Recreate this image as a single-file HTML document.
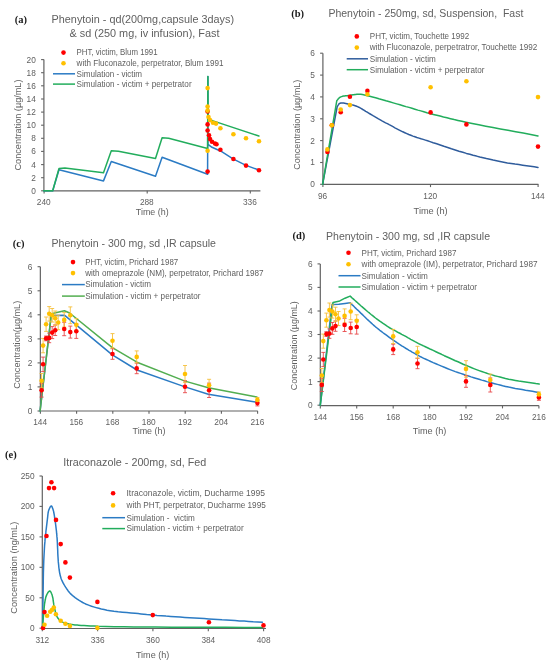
<!DOCTYPE html><html><head><meta charset="utf-8"><style>html,body{margin:0;padding:0;background:#fff;width:550px;height:665px;overflow:hidden}svg{display:block;filter:blur(0.35px)}text{font-family:"Liberation Sans",sans-serif}</style></head><body>
<svg width="550" height="665" viewBox="0 0 550 665">
<rect width="550" height="665" fill="#fff"/>
<line x1="43.9" y1="59.60000000000002" x2="43.9" y2="190.8" stroke="#626262" stroke-width="1.2"/>
<line x1="43.9" y1="190.8" x2="260.4" y2="190.8" stroke="#626262" stroke-width="1.2"/>
<line x1="41.1" y1="190.8" x2="43.9" y2="190.8" stroke="#626262" stroke-width="1.1"/>
<line x1="41.1" y1="177.7" x2="43.9" y2="177.7" stroke="#626262" stroke-width="1.1"/>
<line x1="41.1" y1="164.6" x2="43.9" y2="164.6" stroke="#626262" stroke-width="1.1"/>
<line x1="41.1" y1="151.4" x2="43.9" y2="151.4" stroke="#626262" stroke-width="1.1"/>
<line x1="41.1" y1="138.3" x2="43.9" y2="138.3" stroke="#626262" stroke-width="1.1"/>
<line x1="41.1" y1="125.2" x2="43.9" y2="125.2" stroke="#626262" stroke-width="1.1"/>
<line x1="41.1" y1="112.1" x2="43.9" y2="112.1" stroke="#626262" stroke-width="1.1"/>
<line x1="41.1" y1="99.0" x2="43.9" y2="99.0" stroke="#626262" stroke-width="1.1"/>
<line x1="41.1" y1="85.8" x2="43.9" y2="85.8" stroke="#626262" stroke-width="1.1"/>
<line x1="41.1" y1="72.7" x2="43.9" y2="72.7" stroke="#626262" stroke-width="1.1"/>
<line x1="41.1" y1="59.6" x2="43.9" y2="59.6" stroke="#626262" stroke-width="1.1"/>
<line x1="44.1" y1="190.8" x2="44.1" y2="193.60000000000002" stroke="#626262" stroke-width="1.1"/>
<line x1="147.2" y1="190.8" x2="147.2" y2="193.60000000000002" stroke="#626262" stroke-width="1.1"/>
<line x1="250.3" y1="190.8" x2="250.3" y2="193.60000000000002" stroke="#626262" stroke-width="1.1"/>
<text x="35.8" y="193.7" font-size="8.3" text-anchor="end" fill="#606060" >0</text>
<text x="35.8" y="180.6" font-size="8.3" text-anchor="end" fill="#606060" >2</text>
<text x="35.8" y="167.5" font-size="8.3" text-anchor="end" fill="#606060" >4</text>
<text x="35.8" y="154.3" font-size="8.3" text-anchor="end" fill="#606060" >6</text>
<text x="35.8" y="141.2" font-size="8.3" text-anchor="end" fill="#606060" >8</text>
<text x="35.8" y="128.1" font-size="8.3" text-anchor="end" fill="#606060" >10</text>
<text x="35.8" y="115.0" font-size="8.3" text-anchor="end" fill="#606060" >12</text>
<text x="35.8" y="101.9" font-size="8.3" text-anchor="end" fill="#606060" >14</text>
<text x="35.8" y="88.7" font-size="8.3" text-anchor="end" fill="#606060" >16</text>
<text x="35.8" y="75.6" font-size="8.3" text-anchor="end" fill="#606060" >18</text>
<text x="35.8" y="62.5" font-size="8.3" text-anchor="end" fill="#606060" >20</text>
<text x="43.7" y="205.2" font-size="8.3" text-anchor="middle" fill="#606060" >240</text>
<text x="146.8" y="205.2" font-size="8.3" text-anchor="middle" fill="#606060" >288</text>
<text x="249.9" y="205.2" font-size="8.3" text-anchor="middle" fill="#606060" >336</text>
<text x="14.8" y="22.8" style="font-family:'Liberation Serif',serif;font-weight:bold;font-size:10.5px" fill="#1a1a1a">(a)</text>
<text x="51.6" y="22.8" font-size="10.5" text-anchor="start" fill="#606060" textLength="182.4" lengthAdjust="spacingAndGlyphs" >Phenytoin - qd(200mg,capsule 3days)</text>
<text x="69.5" y="36.9" font-size="10.5" text-anchor="start" fill="#606060" textLength="150" lengthAdjust="spacingAndGlyphs" >&amp; sd (250 mg, iv infusion), Fast</text>
<circle cx="63.5" cy="52.6" r="2.3" fill="#ff0000"/>
<circle cx="63.5" cy="63.2" r="2.3" fill="#ffc000"/>
<line x1="53" y1="73.8" x2="75" y2="73.8" stroke="#2b7bc4" stroke-width="1.5"/>
<line x1="53" y1="84.1" x2="75" y2="84.1" stroke="#22ad5c" stroke-width="1.5"/>
<text x="76.6" y="55.4" font-size="8.2" text-anchor="start" fill="#606060" textLength="81" lengthAdjust="spacingAndGlyphs" >PHT, victim, Blum 1991</text>
<text x="76.6" y="66.0" font-size="8.2" text-anchor="start" fill="#606060" textLength="147" lengthAdjust="spacingAndGlyphs" >with Fluconazole, perpetrator, Blum 1991</text>
<text x="76.6" y="76.6" font-size="8.2" text-anchor="start" fill="#606060" textLength="65.5" lengthAdjust="spacingAndGlyphs" >Simulation - victim</text>
<text x="76.6" y="86.9" font-size="8.2" text-anchor="start" fill="#606060" textLength="115" lengthAdjust="spacingAndGlyphs" >Simulation - victim + perpetrator</text>
<text x="0" y="0" font-size="8.5" text-anchor="middle" fill="#606060" textLength="91" lengthAdjust="spacingAndGlyphs" transform="translate(18,125) rotate(-90)" dominant-baseline="central">Concentration (µg/mL)</text>
<text x="152.2" y="215.4" font-size="9" text-anchor="middle" fill="#606060" textLength="32.8" lengthAdjust="spacingAndGlyphs" >Time (h)</text>
<polyline points="43.7,190.8 52.7,190.8 59.0,169.8 103.5,180.9 111.3,161.5 155.5,176.3 162.1,157.2 207.6,174.2 207.9,76.6 208.0,144.3 212.0,147.3 220.9,151.2 233.0,158.8 246.0,165.4 258.9,170.0" fill="none" stroke="#2b7bc4" stroke-width="1.5" stroke-linejoin="round" stroke-linecap="round"/>
<polyline points="43.7,190.8 52.7,190.8 59.0,168.5 64.9,168.0 103.5,172.8 111.3,150.8 118.4,151.3 155.5,158.6 162.1,137.8 168.7,138.3 207.6,148.5 207.9,76.6 208.1,120.1 212.3,120.6 258.9,136.0" fill="none" stroke="#22ad5c" stroke-width="1.5" stroke-linejoin="round" stroke-linecap="round"/>
<circle cx="207.6" cy="171.6" r="2.3" fill="#ff0000"/>
<circle cx="207.6" cy="111.5" r="2.3" fill="#ff0000"/>
<circle cx="207.6" cy="124.4" r="2.3" fill="#ff0000"/>
<circle cx="207.6" cy="130.5" r="2.3" fill="#ff0000"/>
<circle cx="209.0" cy="135.3" r="2.3" fill="#ff0000"/>
<circle cx="210.0" cy="139.1" r="2.3" fill="#ff0000"/>
<circle cx="212.0" cy="141.7" r="2.3" fill="#ff0000"/>
<circle cx="215.0" cy="143.5" r="2.3" fill="#ff0000"/>
<circle cx="216.5" cy="144.3" r="2.3" fill="#ff0000"/>
<circle cx="220.4" cy="149.8" r="2.3" fill="#ff0000"/>
<circle cx="233.4" cy="159.0" r="2.3" fill="#ff0000"/>
<circle cx="246.0" cy="165.6" r="2.3" fill="#ff0000"/>
<circle cx="259.0" cy="170.2" r="2.3" fill="#ff0000"/>
<circle cx="207.6" cy="88.1" r="2.3" fill="#ffc000"/>
<circle cx="207.6" cy="106.6" r="2.3" fill="#ffc000"/>
<circle cx="207.6" cy="110.6" r="2.3" fill="#ffc000"/>
<circle cx="208.5" cy="117.0" r="2.3" fill="#ffc000"/>
<circle cx="210.0" cy="120.1" r="2.3" fill="#ffc000"/>
<circle cx="213.0" cy="122.7" r="2.3" fill="#ffc000"/>
<circle cx="216.0" cy="123.6" r="2.3" fill="#ffc000"/>
<circle cx="220.4" cy="128.2" r="2.3" fill="#ffc000"/>
<circle cx="233.4" cy="134.3" r="2.3" fill="#ffc000"/>
<circle cx="246.0" cy="138.3" r="2.3" fill="#ffc000"/>
<circle cx="259.0" cy="141.2" r="2.3" fill="#ffc000"/>
<circle cx="207.6" cy="150.7" r="2.3" fill="#ffc000"/>
<line x1="322.90000000000003" y1="53.19999999999999" x2="322.90000000000003" y2="184.3" stroke="#626262" stroke-width="1.2"/>
<line x1="322.90000000000003" y1="184.3" x2="538.4" y2="184.3" stroke="#626262" stroke-width="1.2"/>
<line x1="320.1" y1="184.3" x2="322.90000000000003" y2="184.3" stroke="#626262" stroke-width="1.1"/>
<line x1="320.1" y1="162.5" x2="322.90000000000003" y2="162.5" stroke="#626262" stroke-width="1.1"/>
<line x1="320.1" y1="140.6" x2="322.90000000000003" y2="140.6" stroke="#626262" stroke-width="1.1"/>
<line x1="320.1" y1="118.8" x2="322.90000000000003" y2="118.8" stroke="#626262" stroke-width="1.1"/>
<line x1="320.1" y1="96.9" x2="322.90000000000003" y2="96.9" stroke="#626262" stroke-width="1.1"/>
<line x1="320.1" y1="75.1" x2="322.90000000000003" y2="75.1" stroke="#626262" stroke-width="1.1"/>
<line x1="320.1" y1="53.2" x2="322.90000000000003" y2="53.2" stroke="#626262" stroke-width="1.1"/>
<line x1="322.9" y1="184.3" x2="322.9" y2="187.10000000000002" stroke="#626262" stroke-width="1.1"/>
<line x1="430.5" y1="184.3" x2="430.5" y2="187.10000000000002" stroke="#626262" stroke-width="1.1"/>
<line x1="538.1" y1="184.3" x2="538.1" y2="187.10000000000002" stroke="#626262" stroke-width="1.1"/>
<text x="314.9" y="187.2" font-size="8.3" text-anchor="end" fill="#606060" >0</text>
<text x="314.9" y="165.4" font-size="8.3" text-anchor="end" fill="#606060" >1</text>
<text x="314.9" y="143.5" font-size="8.3" text-anchor="end" fill="#606060" >2</text>
<text x="314.9" y="121.7" font-size="8.3" text-anchor="end" fill="#606060" >3</text>
<text x="314.9" y="99.8" font-size="8.3" text-anchor="end" fill="#606060" >4</text>
<text x="314.9" y="78.0" font-size="8.3" text-anchor="end" fill="#606060" >5</text>
<text x="314.9" y="56.1" font-size="8.3" text-anchor="end" fill="#606060" >6</text>
<text x="322.6" y="198.7" font-size="8.3" text-anchor="middle" fill="#606060" >96</text>
<text x="430.2" y="198.7" font-size="8.3" text-anchor="middle" fill="#606060" >120</text>
<text x="537.8" y="198.7" font-size="8.3" text-anchor="middle" fill="#606060" >144</text>
<text x="291.2" y="16.5" style="font-family:'Liberation Serif',serif;font-weight:bold;font-size:10.5px" fill="#1a1a1a">(b)</text>
<text x="328.4" y="17.3" font-size="10.8" text-anchor="start" fill="#606060" textLength="195" lengthAdjust="spacingAndGlyphs" >Phenytoin - 250mg, sd, Suspension,&#160; Fast</text>
<circle cx="356.8" cy="36.4" r="2.3" fill="#ff0000"/>
<circle cx="356.8" cy="47.6" r="2.3" fill="#ffc000"/>
<line x1="346.7" y1="58.8" x2="368" y2="58.8" stroke="#2f5c9c" stroke-width="1.5"/>
<line x1="346.7" y1="69.7" x2="368" y2="69.7" stroke="#22ad5c" stroke-width="1.5"/>
<text x="369.8" y="39.2" font-size="8.2" text-anchor="start" fill="#606060" textLength="99.4" lengthAdjust="spacingAndGlyphs" >PHT, victim, Touchette 1992</text>
<text x="369.8" y="50.4" font-size="8.2" text-anchor="start" fill="#606060" textLength="167.5" lengthAdjust="spacingAndGlyphs" >with Fluconazole, perpetratror, Touchette 1992</text>
<text x="369.8" y="61.6" font-size="8.2" text-anchor="start" fill="#606060" textLength="66" lengthAdjust="spacingAndGlyphs" >Simulation - victim</text>
<text x="369.8" y="72.5" font-size="8.2" text-anchor="start" fill="#606060" textLength="114.6" lengthAdjust="spacingAndGlyphs" >Simulation - victim + perpetrator</text>
<text x="0" y="0" font-size="8.5" text-anchor="middle" fill="#606060" textLength="90" lengthAdjust="spacingAndGlyphs" transform="translate(296.5,124.8) rotate(-90)" dominant-baseline="central">Concentration (µg/mL)</text>
<text x="430.6" y="213.5" font-size="8.8" text-anchor="middle" fill="#606060" textLength="34" lengthAdjust="spacingAndGlyphs" >Time (h)</text>
<polyline points="322.6,184.3 337.2,106.5 337.5,106.2 337.7,105.8 338.0,105.4 338.2,105.0 338.5,104.6 338.7,104.3 339.0,103.9 339.3,103.6 339.7,103.4 340.1,103.2 340.8,103.0 341.7,102.9 342.6,103.0 343.6,103.1 344.7,103.3 345.8,103.5 346.9,103.7 347.9,104.0 348.9,104.2 349.9,104.4 350.7,104.6 351.5,104.7 352.2,104.9 352.9,105.1 353.7,105.3 354.4,105.5 355.1,105.7 355.9,106.0 356.7,106.3 357.5,106.6 358.8,107.2 360.1,107.9 361.4,108.6 362.8,109.5 364.3,110.3 365.7,111.3 367.2,112.2 368.7,113.1 370.2,114.0 371.7,114.9 373.4,115.9 375.1,116.8 376.8,117.8 378.5,118.8 380.3,119.8 382.0,120.8 383.8,121.8 385.6,122.8 387.4,123.7 389.2,124.7 391.1,125.7 393.0,126.7 394.9,127.8 396.9,128.8 398.8,129.8 400.8,130.8 402.8,131.8 404.8,132.7 406.8,133.6 408.8,134.5 410.8,135.3 412.9,136.1 414.9,136.8 416.9,137.5 419.0,138.1 421.0,138.8 423.2,139.4 425.4,140.1 427.6,140.8 430.0,141.6 433.2,142.7 436.7,143.8 440.2,145.0 443.9,146.3 447.7,147.5 451.4,148.8 455.2,150.0 459.0,151.2 462.8,152.3 466.4,153.4 469.8,154.3 473.1,155.3 476.5,156.1 479.8,157.0 483.1,157.8 486.4,158.6 489.8,159.3 493.1,160.1 496.5,160.8 500.0,161.5 503.7,162.2 507.4,162.9 511.2,163.5 515.0,164.1 518.8,164.6 522.7,165.2 526.5,165.7 530.4,166.3 534.2,166.8 538.0,167.4" fill="none" stroke="#2f5c9c" stroke-width="1.5" stroke-linejoin="round" stroke-linecap="round"/>
<polyline points="322.6,184.3 336.8,100.7 337.1,100.3 337.4,100.0 337.7,99.6 338.0,99.2 338.3,98.8 338.6,98.5 338.9,98.1 339.3,97.8 339.7,97.5 340.1,97.2 340.8,96.9 341.7,96.6 342.6,96.3 343.6,96.1 344.6,96.0 345.7,95.8 346.8,95.7 347.8,95.6 348.9,95.4 349.9,95.3 350.9,95.1 351.9,95.0 352.9,94.8 353.9,94.7 354.9,94.5 355.9,94.4 356.8,94.3 357.8,94.2 358.8,94.2 359.7,94.2 360.5,94.2 361.2,94.3 361.9,94.4 362.6,94.5 363.3,94.7 364.0,94.9 364.7,95.0 365.5,95.2 366.4,95.5 367.4,95.7 369.8,96.3 372.5,97.0 375.6,97.8 378.9,98.8 382.4,99.7 386.0,100.8 389.6,101.8 393.2,102.9 396.7,103.9 400.0,104.8 403.0,105.7 406.0,106.6 409.0,107.4 412.0,108.3 414.9,109.2 417.9,110.1 420.8,110.9 423.8,111.8 426.9,112.7 430.0,113.5 433.4,114.4 436.8,115.3 440.1,116.1 443.5,117.0 447.0,117.8 450.5,118.7 454.2,119.6 457.9,120.4 461.9,121.3 466.0,122.2 472.2,123.5 478.8,124.8 485.8,126.2 493.0,127.6 500.4,128.9 508.0,130.3 515.6,131.7 523.2,133.1 530.7,134.5 538.0,135.9" fill="none" stroke="#22ad5c" stroke-width="1.5" stroke-linejoin="round" stroke-linecap="round"/>
<circle cx="327.4" cy="152.0" r="2.3" fill="#ff0000"/>
<circle cx="331.8" cy="125.2" r="2.3" fill="#ff0000"/>
<circle cx="340.7" cy="112.3" r="2.3" fill="#ff0000"/>
<circle cx="349.9" cy="96.8" r="2.3" fill="#ff0000"/>
<circle cx="367.4" cy="90.9" r="2.3" fill="#ff0000"/>
<circle cx="430.6" cy="112.4" r="2.3" fill="#ff0000"/>
<circle cx="466.4" cy="124.4" r="2.3" fill="#ff0000"/>
<circle cx="538.0" cy="146.6" r="2.3" fill="#ff0000"/>
<circle cx="327.4" cy="149.4" r="2.3" fill="#ffc000"/>
<circle cx="331.8" cy="125.2" r="2.3" fill="#ffc000"/>
<circle cx="340.7" cy="109.5" r="2.3" fill="#ffc000"/>
<circle cx="349.9" cy="105.1" r="2.3" fill="#ffc000"/>
<circle cx="367.4" cy="94.2" r="2.3" fill="#ffc000"/>
<circle cx="430.6" cy="87.3" r="2.3" fill="#ffc000"/>
<circle cx="466.4" cy="81.2" r="2.3" fill="#ffc000"/>
<circle cx="538.0" cy="97.1" r="2.3" fill="#ffc000"/>
<line x1="40.35" y1="266.7" x2="40.35" y2="411.0" stroke="#626262" stroke-width="1.2"/>
<line x1="40.35" y1="411.0" x2="257.8" y2="411.0" stroke="#626262" stroke-width="1.2"/>
<line x1="37.550000000000004" y1="411.0" x2="40.35" y2="411.0" stroke="#626262" stroke-width="1.1"/>
<line x1="37.550000000000004" y1="386.9" x2="40.35" y2="386.9" stroke="#626262" stroke-width="1.1"/>
<line x1="37.550000000000004" y1="362.9" x2="40.35" y2="362.9" stroke="#626262" stroke-width="1.1"/>
<line x1="37.550000000000004" y1="338.9" x2="40.35" y2="338.9" stroke="#626262" stroke-width="1.1"/>
<line x1="37.550000000000004" y1="314.8" x2="40.35" y2="314.8" stroke="#626262" stroke-width="1.1"/>
<line x1="37.550000000000004" y1="290.8" x2="40.35" y2="290.8" stroke="#626262" stroke-width="1.1"/>
<line x1="37.550000000000004" y1="266.7" x2="40.35" y2="266.7" stroke="#626262" stroke-width="1.1"/>
<line x1="40.4" y1="411.0" x2="40.4" y2="413.8" stroke="#626262" stroke-width="1.1"/>
<line x1="76.6" y1="411.0" x2="76.6" y2="413.8" stroke="#626262" stroke-width="1.1"/>
<line x1="112.8" y1="411.0" x2="112.8" y2="413.8" stroke="#626262" stroke-width="1.1"/>
<line x1="149.0" y1="411.0" x2="149.0" y2="413.8" stroke="#626262" stroke-width="1.1"/>
<line x1="185.2" y1="411.0" x2="185.2" y2="413.8" stroke="#626262" stroke-width="1.1"/>
<line x1="221.4" y1="411.0" x2="221.4" y2="413.8" stroke="#626262" stroke-width="1.1"/>
<line x1="257.6" y1="411.0" x2="257.6" y2="413.8" stroke="#626262" stroke-width="1.1"/>
<text x="32.4" y="413.9" font-size="8.3" text-anchor="end" fill="#606060" >0</text>
<text x="32.4" y="389.8" font-size="8.3" text-anchor="end" fill="#606060" >1</text>
<text x="32.4" y="365.8" font-size="8.3" text-anchor="end" fill="#606060" >2</text>
<text x="32.4" y="341.8" font-size="8.3" text-anchor="end" fill="#606060" >3</text>
<text x="32.4" y="317.7" font-size="8.3" text-anchor="end" fill="#606060" >4</text>
<text x="32.4" y="293.6" font-size="8.3" text-anchor="end" fill="#606060" >5</text>
<text x="32.4" y="269.6" font-size="8.3" text-anchor="end" fill="#606060" >6</text>
<text x="40.1" y="425.4" font-size="8.3" text-anchor="middle" fill="#606060" >144</text>
<text x="76.3" y="425.4" font-size="8.3" text-anchor="middle" fill="#606060" >156</text>
<text x="112.5" y="425.4" font-size="8.3" text-anchor="middle" fill="#606060" >168</text>
<text x="148.7" y="425.4" font-size="8.3" text-anchor="middle" fill="#606060" >180</text>
<text x="185.0" y="425.4" font-size="8.3" text-anchor="middle" fill="#606060" >192</text>
<text x="221.2" y="425.4" font-size="8.3" text-anchor="middle" fill="#606060" >204</text>
<text x="257.4" y="425.4" font-size="8.3" text-anchor="middle" fill="#606060" >216</text>
<text x="12.8" y="246.5" style="font-family:'Liberation Serif',serif;font-weight:bold;font-size:10.5px" fill="#1a1a1a">(c)</text>
<text x="51.5" y="247.3" font-size="10.8" text-anchor="start" fill="#606060" textLength="164.5" lengthAdjust="spacingAndGlyphs" >Phenytoin - 300 mg, sd ,IR capsule</text>
<circle cx="73" cy="262.1" r="2.3" fill="#ff0000"/>
<circle cx="73" cy="273.1" r="2.3" fill="#ffc000"/>
<line x1="62" y1="284.6" x2="84.8" y2="284.6" stroke="#2b7bc4" stroke-width="1.5"/>
<line x1="62" y1="296.1" x2="84.8" y2="296.1" stroke="#52ae50" stroke-width="1.5"/>
<text x="85.2" y="264.9" font-size="8.2" text-anchor="start" fill="#606060" textLength="93" lengthAdjust="spacingAndGlyphs" >PHT, victim, Prichard 1987</text>
<text x="85.2" y="275.9" font-size="8.2" text-anchor="start" fill="#606060" textLength="178.3" lengthAdjust="spacingAndGlyphs" >with omeprazole (NM), perpetrator, Prichard 1987</text>
<text x="85.2" y="287.4" font-size="8.2" text-anchor="start" fill="#606060" textLength="65.7" lengthAdjust="spacingAndGlyphs" >Simulation - victim</text>
<text x="85.2" y="298.9" font-size="8.2" text-anchor="start" fill="#606060" textLength="115.3" lengthAdjust="spacingAndGlyphs" >Simulation - victim + perpetrator</text>
<text x="0" y="0" font-size="8.5" text-anchor="middle" fill="#606060" textLength="88" lengthAdjust="spacingAndGlyphs" transform="translate(16.8,344.8) rotate(-90)" dominant-baseline="central">Concentration(µg/mL)</text>
<text x="149" y="434.4" font-size="8.8" text-anchor="middle" fill="#606060" textLength="33" lengthAdjust="spacingAndGlyphs" >Time (h)</text>
<polyline points="40.1,411.0 51.2,315.4 64.4,315.2 112.3,354.9 137.0,370.0 185.0,386.9 208.3,394.2 256.9,402.3" fill="none" stroke="#2b7bc4" stroke-width="1.5" stroke-linejoin="round" stroke-linecap="round"/>
<polyline points="40.1,411.0 51.4,313.8 64.4,310.7 69.6,313.0 112.3,347.6 137.0,362.2 185.0,381.1 208.3,387.8 256.9,397.1" fill="none" stroke="#52ae50" stroke-width="1.5" stroke-linejoin="round" stroke-linecap="round"/>
<line x1="41.6" y1="383.6" x2="41.6" y2="397.1" stroke="#e8474a" stroke-width="0.9"/>
<line x1="39.6" y1="383.6" x2="43.6" y2="383.6" stroke="#e8474a" stroke-width="0.9"/>
<line x1="39.6" y1="397.1" x2="43.6" y2="397.1" stroke="#e8474a" stroke-width="0.9"/>
<line x1="43.1" y1="357.1" x2="43.1" y2="371.6" stroke="#e8474a" stroke-width="0.9"/>
<line x1="41.1" y1="357.1" x2="45.1" y2="357.1" stroke="#e8474a" stroke-width="0.9"/>
<line x1="41.1" y1="371.6" x2="45.1" y2="371.6" stroke="#e8474a" stroke-width="0.9"/>
<line x1="46.1" y1="336.0" x2="46.1" y2="340.8" stroke="#e8474a" stroke-width="0.9"/>
<line x1="44.1" y1="336.0" x2="48.1" y2="336.0" stroke="#e8474a" stroke-width="0.9"/>
<line x1="44.1" y1="340.8" x2="48.1" y2="340.8" stroke="#e8474a" stroke-width="0.9"/>
<line x1="49.2" y1="333.1" x2="49.2" y2="342.7" stroke="#e8474a" stroke-width="0.9"/>
<line x1="47.2" y1="333.1" x2="51.2" y2="333.1" stroke="#e8474a" stroke-width="0.9"/>
<line x1="47.2" y1="342.7" x2="51.2" y2="342.7" stroke="#e8474a" stroke-width="0.9"/>
<line x1="52.2" y1="326.6" x2="52.2" y2="338.6" stroke="#e8474a" stroke-width="0.9"/>
<line x1="50.2" y1="326.6" x2="54.2" y2="326.6" stroke="#e8474a" stroke-width="0.9"/>
<line x1="50.2" y1="338.6" x2="54.2" y2="338.6" stroke="#e8474a" stroke-width="0.9"/>
<line x1="55.2" y1="324.9" x2="55.2" y2="335.5" stroke="#e8474a" stroke-width="0.9"/>
<line x1="53.2" y1="324.9" x2="57.2" y2="324.9" stroke="#e8474a" stroke-width="0.9"/>
<line x1="53.2" y1="335.5" x2="57.2" y2="335.5" stroke="#e8474a" stroke-width="0.9"/>
<line x1="64.2" y1="322.3" x2="64.2" y2="335.7" stroke="#e8474a" stroke-width="0.9"/>
<line x1="62.2" y1="322.3" x2="66.2" y2="322.3" stroke="#e8474a" stroke-width="0.9"/>
<line x1="62.2" y1="335.7" x2="66.2" y2="335.7" stroke="#e8474a" stroke-width="0.9"/>
<line x1="70.3" y1="326.1" x2="70.3" y2="338.1" stroke="#e8474a" stroke-width="0.9"/>
<line x1="68.3" y1="326.1" x2="72.3" y2="326.1" stroke="#e8474a" stroke-width="0.9"/>
<line x1="68.3" y1="338.1" x2="72.3" y2="338.1" stroke="#e8474a" stroke-width="0.9"/>
<line x1="76.3" y1="323.9" x2="76.3" y2="338.4" stroke="#e8474a" stroke-width="0.9"/>
<line x1="74.3" y1="323.9" x2="78.3" y2="323.9" stroke="#e8474a" stroke-width="0.9"/>
<line x1="74.3" y1="338.4" x2="78.3" y2="338.4" stroke="#e8474a" stroke-width="0.9"/>
<line x1="112.5" y1="348.7" x2="112.5" y2="359.3" stroke="#e8474a" stroke-width="0.9"/>
<line x1="110.5" y1="348.7" x2="114.5" y2="348.7" stroke="#e8474a" stroke-width="0.9"/>
<line x1="110.5" y1="359.3" x2="114.5" y2="359.3" stroke="#e8474a" stroke-width="0.9"/>
<line x1="136.7" y1="363.1" x2="136.7" y2="373.7" stroke="#e8474a" stroke-width="0.9"/>
<line x1="134.7" y1="363.1" x2="138.7" y2="363.1" stroke="#e8474a" stroke-width="0.9"/>
<line x1="134.7" y1="373.7" x2="138.7" y2="373.7" stroke="#e8474a" stroke-width="0.9"/>
<line x1="185.0" y1="380.7" x2="185.0" y2="392.7" stroke="#e8474a" stroke-width="0.9"/>
<line x1="183.0" y1="380.7" x2="187.0" y2="380.7" stroke="#e8474a" stroke-width="0.9"/>
<line x1="183.0" y1="392.7" x2="187.0" y2="392.7" stroke="#e8474a" stroke-width="0.9"/>
<line x1="209.1" y1="383.1" x2="209.1" y2="397.5" stroke="#e8474a" stroke-width="0.9"/>
<line x1="207.1" y1="383.1" x2="211.1" y2="383.1" stroke="#e8474a" stroke-width="0.9"/>
<line x1="207.1" y1="397.5" x2="211.1" y2="397.5" stroke="#e8474a" stroke-width="0.9"/>
<line x1="257.4" y1="400.2" x2="257.4" y2="405.9" stroke="#e8474a" stroke-width="0.9"/>
<line x1="255.4" y1="400.2" x2="259.4" y2="400.2" stroke="#e8474a" stroke-width="0.9"/>
<line x1="255.4" y1="405.9" x2="259.4" y2="405.9" stroke="#e8474a" stroke-width="0.9"/>
<line x1="41.6" y1="373.5" x2="41.6" y2="387.9" stroke="#f5c03a" stroke-width="0.9"/>
<line x1="39.6" y1="373.5" x2="43.6" y2="373.5" stroke="#f5c03a" stroke-width="0.9"/>
<line x1="39.6" y1="387.9" x2="43.6" y2="387.9" stroke="#f5c03a" stroke-width="0.9"/>
<line x1="43.1" y1="338.4" x2="43.1" y2="352.8" stroke="#f5c03a" stroke-width="0.9"/>
<line x1="41.1" y1="338.4" x2="45.1" y2="338.4" stroke="#f5c03a" stroke-width="0.9"/>
<line x1="41.1" y1="352.8" x2="45.1" y2="352.8" stroke="#f5c03a" stroke-width="0.9"/>
<line x1="46.1" y1="317.0" x2="46.1" y2="331.4" stroke="#f5c03a" stroke-width="0.9"/>
<line x1="44.1" y1="317.0" x2="48.1" y2="317.0" stroke="#f5c03a" stroke-width="0.9"/>
<line x1="44.1" y1="331.4" x2="48.1" y2="331.4" stroke="#f5c03a" stroke-width="0.9"/>
<line x1="49.2" y1="306.6" x2="49.2" y2="321.1" stroke="#f5c03a" stroke-width="0.9"/>
<line x1="47.2" y1="306.6" x2="51.2" y2="306.6" stroke="#f5c03a" stroke-width="0.9"/>
<line x1="47.2" y1="321.1" x2="51.2" y2="321.1" stroke="#f5c03a" stroke-width="0.9"/>
<line x1="52.2" y1="308.5" x2="52.2" y2="322.0" stroke="#f5c03a" stroke-width="0.9"/>
<line x1="50.2" y1="308.5" x2="54.2" y2="308.5" stroke="#f5c03a" stroke-width="0.9"/>
<line x1="50.2" y1="322.0" x2="54.2" y2="322.0" stroke="#f5c03a" stroke-width="0.9"/>
<line x1="55.2" y1="311.0" x2="55.2" y2="325.4" stroke="#f5c03a" stroke-width="0.9"/>
<line x1="53.2" y1="311.0" x2="57.2" y2="311.0" stroke="#f5c03a" stroke-width="0.9"/>
<line x1="53.2" y1="325.4" x2="57.2" y2="325.4" stroke="#f5c03a" stroke-width="0.9"/>
<line x1="58.2" y1="315.3" x2="58.2" y2="329.7" stroke="#f5c03a" stroke-width="0.9"/>
<line x1="56.2" y1="315.3" x2="60.2" y2="315.3" stroke="#f5c03a" stroke-width="0.9"/>
<line x1="56.2" y1="329.7" x2="60.2" y2="329.7" stroke="#f5c03a" stroke-width="0.9"/>
<line x1="64.2" y1="312.6" x2="64.2" y2="327.1" stroke="#f5c03a" stroke-width="0.9"/>
<line x1="62.2" y1="312.6" x2="66.2" y2="312.6" stroke="#f5c03a" stroke-width="0.9"/>
<line x1="62.2" y1="327.1" x2="66.2" y2="327.1" stroke="#f5c03a" stroke-width="0.9"/>
<line x1="70.3" y1="306.9" x2="70.3" y2="323.7" stroke="#f5c03a" stroke-width="0.9"/>
<line x1="68.3" y1="306.9" x2="72.3" y2="306.9" stroke="#f5c03a" stroke-width="0.9"/>
<line x1="68.3" y1="323.7" x2="72.3" y2="323.7" stroke="#f5c03a" stroke-width="0.9"/>
<line x1="76.3" y1="318.6" x2="76.3" y2="330.7" stroke="#f5c03a" stroke-width="0.9"/>
<line x1="74.3" y1="318.6" x2="78.3" y2="318.6" stroke="#f5c03a" stroke-width="0.9"/>
<line x1="74.3" y1="330.7" x2="78.3" y2="330.7" stroke="#f5c03a" stroke-width="0.9"/>
<line x1="112.5" y1="333.6" x2="112.5" y2="348.0" stroke="#f5c03a" stroke-width="0.9"/>
<line x1="110.5" y1="333.6" x2="114.5" y2="333.6" stroke="#f5c03a" stroke-width="0.9"/>
<line x1="110.5" y1="348.0" x2="114.5" y2="348.0" stroke="#f5c03a" stroke-width="0.9"/>
<line x1="136.7" y1="350.9" x2="136.7" y2="362.9" stroke="#f5c03a" stroke-width="0.9"/>
<line x1="134.7" y1="350.9" x2="138.7" y2="350.9" stroke="#f5c03a" stroke-width="0.9"/>
<line x1="134.7" y1="362.9" x2="138.7" y2="362.9" stroke="#f5c03a" stroke-width="0.9"/>
<line x1="185.0" y1="365.5" x2="185.0" y2="382.4" stroke="#f5c03a" stroke-width="0.9"/>
<line x1="183.0" y1="365.5" x2="187.0" y2="365.5" stroke="#f5c03a" stroke-width="0.9"/>
<line x1="183.0" y1="382.4" x2="187.0" y2="382.4" stroke="#f5c03a" stroke-width="0.9"/>
<line x1="209.1" y1="379.3" x2="209.1" y2="391.3" stroke="#f5c03a" stroke-width="0.9"/>
<line x1="207.1" y1="379.3" x2="211.1" y2="379.3" stroke="#f5c03a" stroke-width="0.9"/>
<line x1="207.1" y1="391.3" x2="211.1" y2="391.3" stroke="#f5c03a" stroke-width="0.9"/>
<line x1="257.4" y1="397.5" x2="257.4" y2="402.3" stroke="#f5c03a" stroke-width="0.9"/>
<line x1="255.4" y1="397.5" x2="259.4" y2="397.5" stroke="#f5c03a" stroke-width="0.9"/>
<line x1="255.4" y1="402.3" x2="259.4" y2="402.3" stroke="#f5c03a" stroke-width="0.9"/>
<circle cx="41.6" cy="390.3" r="2.3" fill="#ff0000"/>
<circle cx="43.1" cy="364.3" r="2.3" fill="#ff0000"/>
<circle cx="46.1" cy="338.4" r="2.3" fill="#ff0000"/>
<circle cx="49.2" cy="337.9" r="2.3" fill="#ff0000"/>
<circle cx="52.2" cy="332.6" r="2.3" fill="#ff0000"/>
<circle cx="55.2" cy="330.2" r="2.3" fill="#ff0000"/>
<circle cx="64.2" cy="329.0" r="2.3" fill="#ff0000"/>
<circle cx="70.3" cy="332.1" r="2.3" fill="#ff0000"/>
<circle cx="76.3" cy="331.2" r="2.3" fill="#ff0000"/>
<circle cx="112.5" cy="354.0" r="2.3" fill="#ff0000"/>
<circle cx="136.7" cy="368.4" r="2.3" fill="#ff0000"/>
<circle cx="185.0" cy="386.7" r="2.3" fill="#ff0000"/>
<circle cx="209.1" cy="390.3" r="2.3" fill="#ff0000"/>
<circle cx="257.4" cy="403.1" r="2.3" fill="#ff0000"/>
<circle cx="41.6" cy="380.7" r="2.3" fill="#ffc000"/>
<circle cx="43.1" cy="345.6" r="2.3" fill="#ffc000"/>
<circle cx="46.1" cy="324.2" r="2.3" fill="#ffc000"/>
<circle cx="49.2" cy="313.8" r="2.3" fill="#ffc000"/>
<circle cx="52.2" cy="315.3" r="2.3" fill="#ffc000"/>
<circle cx="55.2" cy="318.2" r="2.3" fill="#ffc000"/>
<circle cx="58.2" cy="322.5" r="2.3" fill="#ffc000"/>
<circle cx="64.2" cy="319.9" r="2.3" fill="#ffc000"/>
<circle cx="70.3" cy="315.3" r="2.3" fill="#ffc000"/>
<circle cx="76.3" cy="324.7" r="2.3" fill="#ffc000"/>
<circle cx="112.5" cy="340.8" r="2.3" fill="#ffc000"/>
<circle cx="136.7" cy="356.9" r="2.3" fill="#ffc000"/>
<circle cx="185.0" cy="374.0" r="2.3" fill="#ffc000"/>
<circle cx="209.1" cy="385.3" r="2.3" fill="#ffc000"/>
<circle cx="257.4" cy="399.9" r="2.3" fill="#ffc000"/>
<line x1="320.3" y1="263.9" x2="320.3" y2="405.59999999999997" stroke="#626262" stroke-width="1.2"/>
<line x1="320.3" y1="405.59999999999997" x2="538.9" y2="405.59999999999997" stroke="#626262" stroke-width="1.2"/>
<line x1="317.5" y1="405.2" x2="320.3" y2="405.2" stroke="#626262" stroke-width="1.1"/>
<line x1="317.5" y1="381.6" x2="320.3" y2="381.6" stroke="#626262" stroke-width="1.1"/>
<line x1="317.5" y1="358.1" x2="320.3" y2="358.1" stroke="#626262" stroke-width="1.1"/>
<line x1="317.5" y1="334.5" x2="320.3" y2="334.5" stroke="#626262" stroke-width="1.1"/>
<line x1="317.5" y1="311.0" x2="320.3" y2="311.0" stroke="#626262" stroke-width="1.1"/>
<line x1="317.5" y1="287.4" x2="320.3" y2="287.4" stroke="#626262" stroke-width="1.1"/>
<line x1="317.5" y1="263.9" x2="320.3" y2="263.9" stroke="#626262" stroke-width="1.1"/>
<line x1="320.3" y1="405.59999999999997" x2="320.3" y2="408.4" stroke="#626262" stroke-width="1.1"/>
<line x1="356.7" y1="405.59999999999997" x2="356.7" y2="408.4" stroke="#626262" stroke-width="1.1"/>
<line x1="393.2" y1="405.59999999999997" x2="393.2" y2="408.4" stroke="#626262" stroke-width="1.1"/>
<line x1="429.6" y1="405.59999999999997" x2="429.6" y2="408.4" stroke="#626262" stroke-width="1.1"/>
<line x1="466.0" y1="405.59999999999997" x2="466.0" y2="408.4" stroke="#626262" stroke-width="1.1"/>
<line x1="502.5" y1="405.59999999999997" x2="502.5" y2="408.4" stroke="#626262" stroke-width="1.1"/>
<line x1="538.9" y1="405.59999999999997" x2="538.9" y2="408.4" stroke="#626262" stroke-width="1.1"/>
<text x="312.6" y="408.1" font-size="8.3" text-anchor="end" fill="#606060" >0</text>
<text x="312.6" y="384.5" font-size="8.3" text-anchor="end" fill="#606060" >1</text>
<text x="312.6" y="361.0" font-size="8.3" text-anchor="end" fill="#606060" >2</text>
<text x="312.6" y="337.4" font-size="8.3" text-anchor="end" fill="#606060" >3</text>
<text x="312.6" y="313.9" font-size="8.3" text-anchor="end" fill="#606060" >4</text>
<text x="312.6" y="290.3" font-size="8.3" text-anchor="end" fill="#606060" >5</text>
<text x="312.6" y="266.8" font-size="8.3" text-anchor="end" fill="#606060" >6</text>
<text x="320.3" y="419.6" font-size="8.3" text-anchor="middle" fill="#606060" >144</text>
<text x="356.7" y="419.6" font-size="8.3" text-anchor="middle" fill="#606060" >156</text>
<text x="393.2" y="419.6" font-size="8.3" text-anchor="middle" fill="#606060" >168</text>
<text x="429.6" y="419.6" font-size="8.3" text-anchor="middle" fill="#606060" >180</text>
<text x="466.0" y="419.6" font-size="8.3" text-anchor="middle" fill="#606060" >192</text>
<text x="502.5" y="419.6" font-size="8.3" text-anchor="middle" fill="#606060" >204</text>
<text x="538.9" y="419.6" font-size="8.3" text-anchor="middle" fill="#606060" >216</text>
<text x="292.5" y="239" style="font-family:'Liberation Serif',serif;font-weight:bold;font-size:10.5px" fill="#1a1a1a">(d)</text>
<text x="326" y="239.7" font-size="10.8" text-anchor="start" fill="#606060" textLength="164" lengthAdjust="spacingAndGlyphs" >Phenytoin - 300 mg, sd ,IR capsule</text>
<circle cx="348.5" cy="252.8" r="2.3" fill="#ff0000"/>
<circle cx="348.5" cy="264.3" r="2.3" fill="#ffc000"/>
<line x1="338.5" y1="275.7" x2="360.5" y2="275.7" stroke="#2b7bc4" stroke-width="1.5"/>
<line x1="338.5" y1="287.0" x2="360.5" y2="287.0" stroke="#22ad5c" stroke-width="1.5"/>
<text x="361.5" y="255.6" font-size="8.2" text-anchor="start" fill="#606060" textLength="95" lengthAdjust="spacingAndGlyphs" >PHT, victim, Prichard 1987</text>
<text x="361.5" y="267.1" font-size="8.2" text-anchor="start" fill="#606060" textLength="176" lengthAdjust="spacingAndGlyphs" >with omeprazole (IM), perpetrator, Prichard 1987</text>
<text x="361.5" y="278.5" font-size="8.2" text-anchor="start" fill="#606060" textLength="66.3" lengthAdjust="spacingAndGlyphs" >Simulation - victim</text>
<text x="361.5" y="289.8" font-size="8.2" text-anchor="start" fill="#606060" textLength="115.5" lengthAdjust="spacingAndGlyphs" >Simulation - victim + perpetrator</text>
<text x="0" y="0" font-size="8.5" text-anchor="middle" fill="#606060" textLength="89" lengthAdjust="spacingAndGlyphs" transform="translate(294,345.7) rotate(-90)" dominant-baseline="central">Concentration (µg/mL)</text>
<text x="429.5" y="433.9" font-size="8.8" text-anchor="middle" fill="#606060" textLength="33.6" lengthAdjust="spacingAndGlyphs" >Time (h)</text>
<polyline points="320.3,405.2 332.0,304.6 338.8,304.2 345.0,303.4 350.1,302.8 351.0,303.7 351.9,304.6 352.9,305.4 353.8,306.3 354.7,307.2 355.6,308.1 356.5,309.0 357.5,309.9 358.5,310.8 359.5,311.8 360.8,313.1 362.2,314.4 363.6,315.8 365.1,317.2 366.6,318.7 368.1,320.1 369.6,321.5 371.1,322.9 372.6,324.3 374.1,325.6 375.5,326.8 377.0,328.0 378.4,329.1 379.8,330.3 381.3,331.4 382.7,332.5 384.2,333.6 385.7,334.7 387.1,335.7 388.6,336.8 390.0,337.8 391.5,338.9 392.9,339.9 394.4,340.9 395.9,341.9 397.3,342.9 398.8,343.9 400.3,344.8 401.7,345.8 403.2,346.7 404.7,347.6 406.1,348.5 407.6,349.4 409.1,350.3 410.7,351.2 412.1,352.1 413.6,352.9 415.0,353.7 416.4,354.5 417.7,355.2 418.6,355.7 419.5,356.2 420.3,356.6 421.1,357.0 421.9,357.4 422.7,357.8 423.5,358.2 424.4,358.6 425.3,359.0 426.4,359.5 428.4,360.4 430.7,361.5 433.2,362.6 435.9,363.7 438.6,364.9 441.5,366.1 444.3,367.3 447.2,368.5 450.0,369.6 452.7,370.6 455.3,371.6 457.9,372.5 460.6,373.4 463.2,374.3 465.9,375.2 468.5,376.0 471.1,376.9 473.8,377.7 476.4,378.5 479.1,379.3 481.7,380.1 484.3,380.8 486.9,381.6 489.5,382.3 492.1,383.0 494.7,383.7 497.3,384.4 500.0,385.1 502.7,385.8 505.5,386.4 508.7,387.1 512.0,387.7 515.3,388.4 518.7,389.0 522.1,389.6 525.5,390.2 529.0,390.7 532.4,391.3 535.8,391.9 539.2,392.5" fill="none" stroke="#2b7bc4" stroke-width="1.5" stroke-linejoin="round" stroke-linecap="round"/>
<polyline points="320.3,405.2 333.0,302.4 339.8,300.9 345.0,298.2 350.1,296.1 351.0,296.9 351.9,297.8 352.9,298.6 353.8,299.4 354.7,300.2 355.6,301.0 356.5,301.9 357.5,302.7 358.5,303.6 359.5,304.5 360.8,305.7 362.2,306.9 363.6,308.1 365.1,309.4 366.6,310.7 368.1,312.0 369.6,313.2 371.1,314.5 372.6,315.7 374.1,316.9 375.5,318.0 377.0,319.1 378.4,320.1 379.8,321.2 381.3,322.2 382.7,323.2 384.2,324.2 385.7,325.2 387.1,326.2 388.6,327.1 390.0,328.0 391.5,328.8 392.9,329.6 394.4,330.4 395.9,331.2 397.3,332.0 398.8,332.8 400.3,333.5 401.7,334.3 403.2,335.1 404.7,335.9 406.2,336.7 407.7,337.6 409.2,338.4 410.7,339.3 412.2,340.1 413.6,340.9 415.0,341.7 416.4,342.4 417.7,343.1 418.6,343.6 419.5,344.0 420.3,344.4 421.1,344.8 421.9,345.1 422.7,345.5 423.5,345.9 424.4,346.3 425.3,346.7 426.4,347.2 428.5,348.2 430.7,349.3 433.2,350.4 435.9,351.7 438.6,353.0 441.5,354.3 444.3,355.7 447.2,357.0 450.0,358.3 452.7,359.5 455.3,360.7 458.0,361.8 460.6,363.0 463.2,364.2 465.9,365.3 468.5,366.4 471.1,367.5 473.8,368.6 476.4,369.6 479.1,370.6 481.7,371.5 484.3,372.4 486.9,373.3 489.4,374.1 492.0,374.9 494.7,375.7 497.3,376.4 500.0,377.1 502.7,377.8 505.5,378.5 508.7,379.2 511.9,379.8 515.3,380.4 518.7,381.0 522.1,381.5 525.5,382.0 528.9,382.5 532.4,383.0 535.8,383.6 539.2,384.1" fill="none" stroke="#22ad5c" stroke-width="1.5" stroke-linejoin="round" stroke-linecap="round"/>
<line x1="321.8" y1="378.4" x2="321.8" y2="391.5" stroke="#e8474a" stroke-width="0.9"/>
<line x1="319.8" y1="378.4" x2="323.8" y2="378.4" stroke="#e8474a" stroke-width="0.9"/>
<line x1="319.8" y1="391.5" x2="323.8" y2="391.5" stroke="#e8474a" stroke-width="0.9"/>
<line x1="323.3" y1="352.4" x2="323.3" y2="366.6" stroke="#e8474a" stroke-width="0.9"/>
<line x1="321.3" y1="352.4" x2="325.3" y2="352.4" stroke="#e8474a" stroke-width="0.9"/>
<line x1="321.3" y1="366.6" x2="325.3" y2="366.6" stroke="#e8474a" stroke-width="0.9"/>
<line x1="326.4" y1="331.7" x2="326.4" y2="336.4" stroke="#e8474a" stroke-width="0.9"/>
<line x1="324.4" y1="331.7" x2="328.4" y2="331.7" stroke="#e8474a" stroke-width="0.9"/>
<line x1="324.4" y1="336.4" x2="328.4" y2="336.4" stroke="#e8474a" stroke-width="0.9"/>
<line x1="329.4" y1="328.9" x2="329.4" y2="338.3" stroke="#e8474a" stroke-width="0.9"/>
<line x1="327.4" y1="328.9" x2="331.4" y2="328.9" stroke="#e8474a" stroke-width="0.9"/>
<line x1="327.4" y1="338.3" x2="331.4" y2="338.3" stroke="#e8474a" stroke-width="0.9"/>
<line x1="332.4" y1="322.5" x2="332.4" y2="334.3" stroke="#e8474a" stroke-width="0.9"/>
<line x1="330.4" y1="322.5" x2="334.4" y2="322.5" stroke="#e8474a" stroke-width="0.9"/>
<line x1="330.4" y1="334.3" x2="334.4" y2="334.3" stroke="#e8474a" stroke-width="0.9"/>
<line x1="335.5" y1="320.9" x2="335.5" y2="331.3" stroke="#e8474a" stroke-width="0.9"/>
<line x1="333.5" y1="320.9" x2="337.5" y2="320.9" stroke="#e8474a" stroke-width="0.9"/>
<line x1="333.5" y1="331.3" x2="337.5" y2="331.3" stroke="#e8474a" stroke-width="0.9"/>
<line x1="344.6" y1="318.3" x2="344.6" y2="331.5" stroke="#e8474a" stroke-width="0.9"/>
<line x1="342.6" y1="318.3" x2="346.6" y2="318.3" stroke="#e8474a" stroke-width="0.9"/>
<line x1="342.6" y1="331.5" x2="346.6" y2="331.5" stroke="#e8474a" stroke-width="0.9"/>
<line x1="350.7" y1="322.1" x2="350.7" y2="333.8" stroke="#e8474a" stroke-width="0.9"/>
<line x1="348.7" y1="322.1" x2="352.7" y2="322.1" stroke="#e8474a" stroke-width="0.9"/>
<line x1="348.7" y1="333.8" x2="352.7" y2="333.8" stroke="#e8474a" stroke-width="0.9"/>
<line x1="356.7" y1="319.9" x2="356.7" y2="334.1" stroke="#e8474a" stroke-width="0.9"/>
<line x1="354.7" y1="319.9" x2="358.7" y2="319.9" stroke="#e8474a" stroke-width="0.9"/>
<line x1="354.7" y1="334.1" x2="358.7" y2="334.1" stroke="#e8474a" stroke-width="0.9"/>
<line x1="393.2" y1="344.2" x2="393.2" y2="354.6" stroke="#e8474a" stroke-width="0.9"/>
<line x1="391.2" y1="344.2" x2="395.2" y2="344.2" stroke="#e8474a" stroke-width="0.9"/>
<line x1="391.2" y1="354.6" x2="395.2" y2="354.6" stroke="#e8474a" stroke-width="0.9"/>
<line x1="417.5" y1="358.3" x2="417.5" y2="368.7" stroke="#e8474a" stroke-width="0.9"/>
<line x1="415.5" y1="358.3" x2="419.5" y2="358.3" stroke="#e8474a" stroke-width="0.9"/>
<line x1="415.5" y1="368.7" x2="419.5" y2="368.7" stroke="#e8474a" stroke-width="0.9"/>
<line x1="466.0" y1="375.5" x2="466.0" y2="387.3" stroke="#e8474a" stroke-width="0.9"/>
<line x1="464.0" y1="375.5" x2="468.0" y2="375.5" stroke="#e8474a" stroke-width="0.9"/>
<line x1="464.0" y1="387.3" x2="468.0" y2="387.3" stroke="#e8474a" stroke-width="0.9"/>
<line x1="490.3" y1="377.9" x2="490.3" y2="392.0" stroke="#e8474a" stroke-width="0.9"/>
<line x1="488.3" y1="377.9" x2="492.3" y2="377.9" stroke="#e8474a" stroke-width="0.9"/>
<line x1="488.3" y1="392.0" x2="492.3" y2="392.0" stroke="#e8474a" stroke-width="0.9"/>
<line x1="538.9" y1="394.6" x2="538.9" y2="400.3" stroke="#e8474a" stroke-width="0.9"/>
<line x1="536.9" y1="394.6" x2="540.9" y2="394.6" stroke="#e8474a" stroke-width="0.9"/>
<line x1="536.9" y1="400.3" x2="540.9" y2="400.3" stroke="#e8474a" stroke-width="0.9"/>
<line x1="321.8" y1="368.5" x2="321.8" y2="382.6" stroke="#f5c03a" stroke-width="0.9"/>
<line x1="319.8" y1="368.5" x2="323.8" y2="368.5" stroke="#f5c03a" stroke-width="0.9"/>
<line x1="319.8" y1="382.6" x2="323.8" y2="382.6" stroke="#f5c03a" stroke-width="0.9"/>
<line x1="323.3" y1="334.1" x2="323.3" y2="348.2" stroke="#f5c03a" stroke-width="0.9"/>
<line x1="321.3" y1="334.1" x2="325.3" y2="334.1" stroke="#f5c03a" stroke-width="0.9"/>
<line x1="321.3" y1="348.2" x2="325.3" y2="348.2" stroke="#f5c03a" stroke-width="0.9"/>
<line x1="326.4" y1="313.1" x2="326.4" y2="327.2" stroke="#f5c03a" stroke-width="0.9"/>
<line x1="324.4" y1="313.1" x2="328.4" y2="313.1" stroke="#f5c03a" stroke-width="0.9"/>
<line x1="324.4" y1="327.2" x2="328.4" y2="327.2" stroke="#f5c03a" stroke-width="0.9"/>
<line x1="329.4" y1="303.0" x2="329.4" y2="317.1" stroke="#f5c03a" stroke-width="0.9"/>
<line x1="327.4" y1="303.0" x2="331.4" y2="303.0" stroke="#f5c03a" stroke-width="0.9"/>
<line x1="327.4" y1="317.1" x2="331.4" y2="317.1" stroke="#f5c03a" stroke-width="0.9"/>
<line x1="332.4" y1="304.9" x2="332.4" y2="318.1" stroke="#f5c03a" stroke-width="0.9"/>
<line x1="330.4" y1="304.9" x2="334.4" y2="304.9" stroke="#f5c03a" stroke-width="0.9"/>
<line x1="330.4" y1="318.1" x2="334.4" y2="318.1" stroke="#f5c03a" stroke-width="0.9"/>
<line x1="335.5" y1="307.2" x2="335.5" y2="321.4" stroke="#f5c03a" stroke-width="0.9"/>
<line x1="333.5" y1="307.2" x2="337.5" y2="307.2" stroke="#f5c03a" stroke-width="0.9"/>
<line x1="333.5" y1="321.4" x2="337.5" y2="321.4" stroke="#f5c03a" stroke-width="0.9"/>
<line x1="338.5" y1="311.5" x2="338.5" y2="325.6" stroke="#f5c03a" stroke-width="0.9"/>
<line x1="336.5" y1="311.5" x2="340.5" y2="311.5" stroke="#f5c03a" stroke-width="0.9"/>
<line x1="336.5" y1="325.6" x2="340.5" y2="325.6" stroke="#f5c03a" stroke-width="0.9"/>
<line x1="344.6" y1="308.9" x2="344.6" y2="323.0" stroke="#f5c03a" stroke-width="0.9"/>
<line x1="342.6" y1="308.9" x2="346.6" y2="308.9" stroke="#f5c03a" stroke-width="0.9"/>
<line x1="342.6" y1="323.0" x2="346.6" y2="323.0" stroke="#f5c03a" stroke-width="0.9"/>
<line x1="350.7" y1="303.2" x2="350.7" y2="319.7" stroke="#f5c03a" stroke-width="0.9"/>
<line x1="348.7" y1="303.2" x2="352.7" y2="303.2" stroke="#f5c03a" stroke-width="0.9"/>
<line x1="348.7" y1="319.7" x2="352.7" y2="319.7" stroke="#f5c03a" stroke-width="0.9"/>
<line x1="356.7" y1="314.8" x2="356.7" y2="326.5" stroke="#f5c03a" stroke-width="0.9"/>
<line x1="354.7" y1="314.8" x2="358.7" y2="314.8" stroke="#f5c03a" stroke-width="0.9"/>
<line x1="354.7" y1="326.5" x2="358.7" y2="326.5" stroke="#f5c03a" stroke-width="0.9"/>
<line x1="393.2" y1="329.4" x2="393.2" y2="343.5" stroke="#f5c03a" stroke-width="0.9"/>
<line x1="391.2" y1="329.4" x2="395.2" y2="329.4" stroke="#f5c03a" stroke-width="0.9"/>
<line x1="391.2" y1="343.5" x2="395.2" y2="343.5" stroke="#f5c03a" stroke-width="0.9"/>
<line x1="417.5" y1="346.3" x2="417.5" y2="358.1" stroke="#f5c03a" stroke-width="0.9"/>
<line x1="415.5" y1="346.3" x2="419.5" y2="346.3" stroke="#f5c03a" stroke-width="0.9"/>
<line x1="415.5" y1="358.1" x2="419.5" y2="358.1" stroke="#f5c03a" stroke-width="0.9"/>
<line x1="466.0" y1="360.7" x2="466.0" y2="377.2" stroke="#f5c03a" stroke-width="0.9"/>
<line x1="464.0" y1="360.7" x2="468.0" y2="360.7" stroke="#f5c03a" stroke-width="0.9"/>
<line x1="464.0" y1="377.2" x2="468.0" y2="377.2" stroke="#f5c03a" stroke-width="0.9"/>
<line x1="490.3" y1="374.1" x2="490.3" y2="385.9" stroke="#f5c03a" stroke-width="0.9"/>
<line x1="488.3" y1="374.1" x2="492.3" y2="374.1" stroke="#f5c03a" stroke-width="0.9"/>
<line x1="488.3" y1="385.9" x2="492.3" y2="385.9" stroke="#f5c03a" stroke-width="0.9"/>
<line x1="538.9" y1="392.0" x2="538.9" y2="396.7" stroke="#f5c03a" stroke-width="0.9"/>
<line x1="536.9" y1="392.0" x2="540.9" y2="392.0" stroke="#f5c03a" stroke-width="0.9"/>
<line x1="536.9" y1="396.7" x2="540.9" y2="396.7" stroke="#f5c03a" stroke-width="0.9"/>
<circle cx="321.8" cy="384.9" r="2.3" fill="#ff0000"/>
<circle cx="323.3" cy="359.5" r="2.3" fill="#ff0000"/>
<circle cx="326.4" cy="334.1" r="2.3" fill="#ff0000"/>
<circle cx="329.4" cy="333.6" r="2.3" fill="#ff0000"/>
<circle cx="332.4" cy="328.4" r="2.3" fill="#ff0000"/>
<circle cx="335.5" cy="326.1" r="2.3" fill="#ff0000"/>
<circle cx="344.6" cy="324.9" r="2.3" fill="#ff0000"/>
<circle cx="350.7" cy="328.0" r="2.3" fill="#ff0000"/>
<circle cx="356.7" cy="327.0" r="2.3" fill="#ff0000"/>
<circle cx="393.2" cy="349.4" r="2.3" fill="#ff0000"/>
<circle cx="417.5" cy="363.5" r="2.3" fill="#ff0000"/>
<circle cx="466.0" cy="381.4" r="2.3" fill="#ff0000"/>
<circle cx="490.3" cy="384.9" r="2.3" fill="#ff0000"/>
<circle cx="538.9" cy="397.4" r="2.3" fill="#ff0000"/>
<circle cx="321.8" cy="375.5" r="2.3" fill="#ffc000"/>
<circle cx="323.3" cy="341.1" r="2.3" fill="#ffc000"/>
<circle cx="326.4" cy="320.2" r="2.3" fill="#ffc000"/>
<circle cx="329.4" cy="310.1" r="2.3" fill="#ffc000"/>
<circle cx="332.4" cy="311.5" r="2.3" fill="#ffc000"/>
<circle cx="335.5" cy="314.3" r="2.3" fill="#ffc000"/>
<circle cx="338.5" cy="318.5" r="2.3" fill="#ffc000"/>
<circle cx="344.6" cy="315.9" r="2.3" fill="#ffc000"/>
<circle cx="350.7" cy="311.5" r="2.3" fill="#ffc000"/>
<circle cx="356.7" cy="320.7" r="2.3" fill="#ffc000"/>
<circle cx="393.2" cy="336.4" r="2.3" fill="#ffc000"/>
<circle cx="417.5" cy="352.2" r="2.3" fill="#ffc000"/>
<circle cx="466.0" cy="368.9" r="2.3" fill="#ffc000"/>
<circle cx="490.3" cy="380.0" r="2.3" fill="#ffc000"/>
<circle cx="538.9" cy="394.4" r="2.3" fill="#ffc000"/>
<line x1="42.3" y1="476.00000000000006" x2="42.3" y2="628.5" stroke="#626262" stroke-width="1.2"/>
<line x1="42.3" y1="628.5" x2="266" y2="628.5" stroke="#626262" stroke-width="1.2"/>
<line x1="39.5" y1="628.2" x2="42.3" y2="628.2" stroke="#626262" stroke-width="1.1"/>
<line x1="39.5" y1="597.8" x2="42.3" y2="597.8" stroke="#626262" stroke-width="1.1"/>
<line x1="39.5" y1="567.3" x2="42.3" y2="567.3" stroke="#626262" stroke-width="1.1"/>
<line x1="39.5" y1="536.9" x2="42.3" y2="536.9" stroke="#626262" stroke-width="1.1"/>
<line x1="39.5" y1="506.4" x2="42.3" y2="506.4" stroke="#626262" stroke-width="1.1"/>
<line x1="39.5" y1="476.0" x2="42.3" y2="476.0" stroke="#626262" stroke-width="1.1"/>
<line x1="42.3" y1="628.5" x2="42.3" y2="631.3" stroke="#626262" stroke-width="1.1"/>
<line x1="97.6" y1="628.5" x2="97.6" y2="631.3" stroke="#626262" stroke-width="1.1"/>
<line x1="152.9" y1="628.5" x2="152.9" y2="631.3" stroke="#626262" stroke-width="1.1"/>
<line x1="208.3" y1="628.5" x2="208.3" y2="631.3" stroke="#626262" stroke-width="1.1"/>
<line x1="263.6" y1="628.5" x2="263.6" y2="631.3" stroke="#626262" stroke-width="1.1"/>
<text x="34.6" y="631.1" font-size="8.3" text-anchor="end" fill="#606060" >0</text>
<text x="34.6" y="600.7" font-size="8.3" text-anchor="end" fill="#606060" >50</text>
<text x="34.6" y="570.2" font-size="8.3" text-anchor="end" fill="#606060" >100</text>
<text x="34.6" y="539.8" font-size="8.3" text-anchor="end" fill="#606060" >150</text>
<text x="34.6" y="509.3" font-size="8.3" text-anchor="end" fill="#606060" >200</text>
<text x="34.6" y="478.9" font-size="8.3" text-anchor="end" fill="#606060" >250</text>
<text x="42.3" y="642.6" font-size="8.3" text-anchor="middle" fill="#606060" >312</text>
<text x="97.6" y="642.6" font-size="8.3" text-anchor="middle" fill="#606060" >336</text>
<text x="152.9" y="642.6" font-size="8.3" text-anchor="middle" fill="#606060" >360</text>
<text x="208.3" y="642.6" font-size="8.3" text-anchor="middle" fill="#606060" >384</text>
<text x="263.6" y="642.6" font-size="8.3" text-anchor="middle" fill="#606060" >408</text>
<text x="5" y="458" style="font-family:'Liberation Serif',serif;font-weight:bold;font-size:10.5px" fill="#1a1a1a">(e)</text>
<text x="63.2" y="465.8" font-size="10.8" text-anchor="start" fill="#606060" textLength="143" lengthAdjust="spacingAndGlyphs" >Itraconazole - 200mg, sd, Fed</text>
<circle cx="113.1" cy="493.3" r="2.3" fill="#ff0000"/>
<circle cx="113.1" cy="505.4" r="2.3" fill="#ffc000"/>
<line x1="102.3" y1="517.7" x2="125" y2="517.7" stroke="#2b7bc4" stroke-width="1.5"/>
<line x1="102.3" y1="528.6" x2="125" y2="528.6" stroke="#22ad5c" stroke-width="1.5"/>
<text x="126.5" y="496.1" font-size="8.2" text-anchor="start" fill="#606060" textLength="138.5" lengthAdjust="spacingAndGlyphs" >Itraconazole, victim, Ducharme 1995</text>
<text x="126.5" y="508.2" font-size="8.2" text-anchor="start" fill="#606060" textLength="139.3" lengthAdjust="spacingAndGlyphs" >with PHT, perpetrator, Ducharme 1995</text>
<text x="126.5" y="520.5" font-size="8.2" text-anchor="start" fill="#606060" textLength="68.3" lengthAdjust="spacingAndGlyphs" >Simulation -&#160; victim</text>
<text x="126.5" y="531.4" font-size="8.2" text-anchor="start" fill="#606060" textLength="117.2" lengthAdjust="spacingAndGlyphs" >Simulation - victim + perpetrator</text>
<text x="0" y="0" font-size="8.5" text-anchor="middle" fill="#606060" textLength="92" lengthAdjust="spacingAndGlyphs" transform="translate(13.7,567.7) rotate(-90)" dominant-baseline="central">Concentration (ng/mL)</text>
<text x="152.6" y="658.1" font-size="8.8" text-anchor="middle" fill="#606060" textLength="33.4" lengthAdjust="spacingAndGlyphs" >Time (h)</text>
<polyline points="42.5,628.0 42.6,623.4 42.7,618.9 42.7,614.3 42.8,609.7 42.9,605.0 43.0,600.0 43.1,593.6 43.2,586.7 43.3,579.6 43.4,572.6 43.6,566.0 43.8,560.0 44.0,556.0 44.2,552.2 44.4,548.5 44.6,545.1 44.9,541.9 45.1,539.0 45.3,537.3 45.4,535.7 45.6,534.3 45.8,532.9 45.9,531.5 46.1,530.0 46.3,528.4 46.5,526.7 46.7,525.0 46.9,523.4 47.1,521.7 47.3,520.0 47.5,518.3 47.7,516.5 47.9,514.7 48.1,513.0 48.4,511.4 48.8,510.0 49.2,509.1 49.6,508.2 50.0,507.3 50.5,506.6 50.9,506.2 51.3,506.0 51.7,506.2 52.0,506.7 52.3,507.4 52.6,508.2 52.9,509.1 53.2,510.0 53.6,511.4 53.9,513.0 54.2,514.7 54.5,516.5 54.7,518.3 55.0,520.0 55.2,521.7 55.5,523.3 55.7,525.0 55.9,526.7 56.1,528.3 56.3,530.0 56.5,531.6 56.6,533.2 56.8,534.8 56.9,536.4 57.1,538.1 57.2,540.0 57.4,543.0 57.5,546.4 57.7,550.0 57.8,553.6 58.0,557.0 58.2,560.0 58.3,561.9 58.5,563.7 58.7,565.4 58.8,567.0 59.0,568.5 59.2,570.0 59.4,571.1 59.5,572.1 59.7,573.0 59.9,574.0 60.1,574.9 60.3,575.8 60.5,576.6 60.8,577.4 61.0,578.2 61.3,579.0 61.6,579.8 62.0,580.7 62.6,581.9 63.2,583.2 64.0,584.5 64.8,585.9 65.6,587.2 66.4,588.4 67.2,589.5 68.0,590.7 68.8,591.7 69.7,592.8 70.7,593.9 71.8,594.9 73.3,596.2 75.1,597.6 76.9,598.9 78.8,600.2 80.8,601.4 82.7,602.5 84.5,603.4 86.2,604.2 88.0,604.9 89.8,605.6 91.6,606.3 93.6,606.9 96.1,607.6 98.7,608.3 101.3,609.0 104.1,609.6 107.0,610.2 110.0,610.7 113.9,611.3 118.1,611.8 122.4,612.2 126.8,612.6 131.0,612.9 135.0,613.3 138.1,613.6 141.0,613.9 143.9,614.2 146.7,614.5 149.6,614.7 152.8,615.0 157.0,615.4 161.4,615.7 166.0,616.1 170.7,616.4 175.4,616.8 180.0,617.1 184.8,617.4 189.6,617.7 194.5,618.0 199.3,618.3 204.2,618.6 208.9,618.9 213.3,619.2 217.7,619.5 222.0,619.8 226.3,620.0 230.6,620.3 235.0,620.6 239.5,620.9 244.1,621.1 248.7,621.4 253.2,621.7 257.8,621.9 262.4,622.2" fill="none" stroke="#2b7bc4" stroke-width="1.5" stroke-linejoin="round" stroke-linecap="round"/>
<polyline points="42.5,628.0 42.7,625.4 42.9,622.8 43.1,620.2 43.3,617.7 43.5,615.1 43.7,612.7 43.9,610.5 44.1,608.4 44.3,606.3 44.5,604.2 44.8,602.3 45.1,600.5 45.4,599.3 45.6,598.1 45.9,596.9 46.3,595.9 46.7,594.9 47.1,594.0 47.5,593.3 47.9,592.6 48.4,592.0 48.9,591.4 49.4,591.1 49.8,591.0 50.2,591.2 50.7,591.8 51.1,592.5 51.5,593.5 51.9,594.4 52.2,595.4 52.6,597.0 53.0,598.7 53.2,600.7 53.5,602.7 53.8,604.7 54.2,606.6 54.6,608.5 55.1,610.4 55.5,612.3 56.0,614.1 56.6,615.8 57.3,617.2 57.8,618.1 58.4,618.8 59.0,619.5 59.7,620.1 60.3,620.7 61.0,621.2 61.5,621.6 62.1,621.9 62.6,622.1 63.2,622.4 63.7,622.6 64.4,622.8 65.4,623.1 66.6,623.4 67.8,623.7 69.0,624.0 70.3,624.2 71.5,624.4 72.6,624.6 73.7,624.7 74.8,624.9 76.0,625.0 77.2,625.1 78.6,625.2 81.2,625.4 84.0,625.6 87.1,625.8 90.5,626.0 94.2,626.1 98.2,626.3 105.8,626.5 114.4,626.7 123.9,626.8 134.0,626.9 144.6,627.0 155.5,627.1 171.4,627.2 188.7,627.3 206.9,627.3 225.5,627.3 244.2,627.4 262.4,627.4" fill="none" stroke="#22ad5c" stroke-width="1.5" stroke-linejoin="round" stroke-linecap="round"/>
<circle cx="43.1" cy="628.0" r="2.3" fill="#ff0000"/>
<circle cx="44.5" cy="612.1" r="2.3" fill="#ff0000"/>
<circle cx="46.5" cy="536.0" r="2.3" fill="#ff0000"/>
<circle cx="49.0" cy="488.1" r="2.3" fill="#ff0000"/>
<circle cx="51.4" cy="482.2" r="2.3" fill="#ff0000"/>
<circle cx="54.1" cy="488.1" r="2.3" fill="#ff0000"/>
<circle cx="56.0" cy="519.9" r="2.3" fill="#ff0000"/>
<circle cx="60.7" cy="544.1" r="2.3" fill="#ff0000"/>
<circle cx="65.4" cy="562.4" r="2.3" fill="#ff0000"/>
<circle cx="69.9" cy="577.6" r="2.3" fill="#ff0000"/>
<circle cx="97.4" cy="601.9" r="2.3" fill="#ff0000"/>
<circle cx="152.8" cy="615.1" r="2.3" fill="#ff0000"/>
<circle cx="208.9" cy="622.3" r="2.3" fill="#ff0000"/>
<circle cx="263.5" cy="625.4" r="2.3" fill="#ff0000"/>
<circle cx="44.5" cy="624.8" r="2.3" fill="#ffc000"/>
<circle cx="47.1" cy="615.7" r="2.3" fill="#ffc000"/>
<circle cx="50.2" cy="611.7" r="2.3" fill="#ffc000"/>
<circle cx="52.0" cy="610.0" r="2.3" fill="#ffc000"/>
<circle cx="53.8" cy="607.6" r="2.3" fill="#ffc000"/>
<circle cx="55.9" cy="614.3" r="2.3" fill="#ffc000"/>
<circle cx="60.7" cy="620.8" r="2.3" fill="#ffc000"/>
<circle cx="65.4" cy="623.8" r="2.3" fill="#ffc000"/>
<circle cx="69.9" cy="625.9" r="2.3" fill="#ffc000"/>
<circle cx="97.4" cy="627.9" r="2.3" fill="#ffc000"/>
</svg></body></html>
